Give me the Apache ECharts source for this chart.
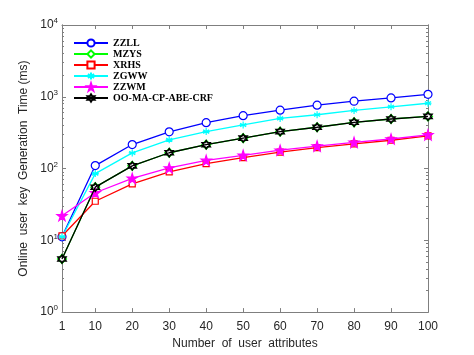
<!DOCTYPE html>
<html><head><meta charset="utf-8">
<script src="https://cdn.jsdelivr.net/npm/echarts@6/dist/echarts.min.js"></script>
<style>html,body{margin:0;padding:0;background:#fff}#c{width:474px;height:355px}</style>
</head><body><div id="c"></div>
<script>
const xValues = [1, 10, 20, 30, 40, 50, 60, 70, 80, 90, 100];
const xTicks = [1, 10, 20, 30, 40, 50, 60, 70, 80, 90, 100];
const yMajorTicks = [1, 10, 100, 1000, 10000];
const ZZLL = [11.2, 110, 216, 325, 436, 545, 651, 764, 867, 963, 1082];
const MZYS = [5.5, 55, 109, 166, 215, 265, 327, 376, 441, 490, 533];
const XRHS = [11.5, 35, 61, 90, 117, 142, 169, 196, 221, 248, 285];
const ZGWW = [11.2, 85, 165, 251, 327, 405, 500, 562, 646, 724, 813];
const ZZWM = [22, 46, 73, 102, 130, 153, 180, 206, 232, 258, 295];
const OOMA = [5.5, 55, 109, 166, 215, 265, 327, 376, 441, 490, 533];
const seriesNames = ['ZZLL', 'MZYS', 'XRHS', 'ZGWW', 'ZZWM', 'OO-MA-CP-ABE-CRF'];

const yMinorTicks = [];
for (let d = 1; d < 10000; d *= 10) for (let k = 2; k <= 9; k++) yMinorTicks.push(d * k);

const pair = arr => xValues.map((x, i) => [x, arr[i]]);
const star5 = 'path://M0,-10L2.245,-3.09L9.51,-3.09L3.633,1.18L5.88,8.09L0,3.82L-5.88,8.09L-3.633,1.18L-9.51,-3.09L-2.245,-3.09Z';
const star6 = 'path://M0,-10L2.887,-5L8.66,-5L5.77,0L8.66,5L2.887,5L0,10L-2.887,5L-8.66,5L-5.77,0L-8.66,-5L-2.887,-5Z';
const aster = 'path://M0,-10L0,10M-8.66,-5L8.66,5M-8.66,5L8.66,-5M-10,0L10,0';

const axisCol = '#7f7f7f';
const lblFont = {fontFamily: 'Liberation Sans, Arial', fontSize: 12, color: '#262626'};
const supLabel = v => '{b|10}{s|' + Math.round(Math.log10(v)) + '}';

function yAxisDef(pos, minor, show) {
  return {
    type: 'log', logBase: 10, min: 1, max: 10000, position: pos,
    name: (pos === 'left' && show) ? 'Online  user  key  Generation  Time (ms)' : '',
    nameLocation: 'middle', nameGap: 28,
    nameTextStyle: {fontFamily: 'Liberation Sans, Arial', fontSize: 12, color: '#262626'},
    axisLine: {show: true, lineStyle: {color: axisCol, width: 1}},
    axisTick: {show: true, inside: true, length: minor ? 2 : 4, lineStyle: {color: axisCol},
      customValues: minor ? yMinorTicks : yMajorTicks},
    axisLabel: {show: show, customValues: yMajorTicks, formatter: supLabel, margin: 4,
      rich: {b: {fontFamily: 'Liberation Sans, Arial', fontSize: 12, color: '#262626'},
             s: {fontFamily: 'Liberation Sans, Arial', fontSize: 8, color: '#262626', verticalAlign: 'top', padding: [0, 0, 8, 0]}}},
    splitLine: {show: false}, minorTick: {show: false}
  };
}
function xAxisDef(pos, show) {
  return {
    type: 'value', min: 1, max: 100, position: pos,
    name: show ? 'Number  of  user  attributes' : '', nameLocation: 'middle', nameGap: 25,
    nameTextStyle: {fontFamily: 'Liberation Sans, Arial', fontSize: 12, color: '#262626'},
    axisLine: {show: true, lineStyle: {color: axisCol, width: 1}},
    axisTick: {show: true, inside: true, length: 4, lineStyle: {color: axisCol}, customValues: xTicks},
    axisLabel: {show: show, customValues: xTicks, margin: 9, ...lblFont},
    splitLine: {show: false}
  };
}

const chart = echarts.init(document.getElementById('c'), null, {renderer: 'canvas'});
const mk = (name, data, color, symbol, size, fillCol, z, bw) => ({
  name, type: 'line', data: pair(data), symbol, symbolSize: size, z,
  xAxisIndex: 0, yAxisIndex: 0,
  lineStyle: {color, width: 1.3},
  itemStyle: {color: fillCol, borderColor: color, borderWidth: bw || 1.2},
  emphasis: {disabled: true}, animation: false
});
chart.setOption({
  animation: false,
  grid: {left: 62, right: 46, top: 25, bottom: 40, containLabel: false},
  xAxis: [xAxisDef('bottom', true), xAxisDef('top', false)],
  yAxis: [yAxisDef('left', false, true), yAxisDef('left', true, false),
          yAxisDef('right', false, false), yAxisDef('right', true, false)],
  legend: {
    orient: 'vertical', left: 68, top: 33, itemWidth: 34, itemHeight: 9, itemGap: 1,
    data: seriesNames,
    textStyle: {fontFamily: 'Liberation Serif, Times New Roman', fontWeight: 'bold', fontSize: 10, color: '#000'},
    backgroundColor: '#fff'
  },
  series: [
    mk(seriesNames[0], ZZLL, '#0000ff', 'circle', 8, '#fff', 2),
    mk(seriesNames[1], MZYS, '#00ff00', 'diamond', 9, '#fff', 2),
    mk(seriesNames[2], XRHS, '#ff0000', 'rect', 6, '#fff', 2),
    mk(seriesNames[3], ZGWW, '#00ffff', aster, 7, '#00ffff', 2),
    mk(seriesNames[4], ZZWM, '#ff00ff', star5, 10, '#ff00ff', 2),
    mk(seriesNames[5], OOMA, '#000000', star6, 8, 'rgba(0,0,0,0)', 3, 1.6)
  ]
});
</script></body></html>
